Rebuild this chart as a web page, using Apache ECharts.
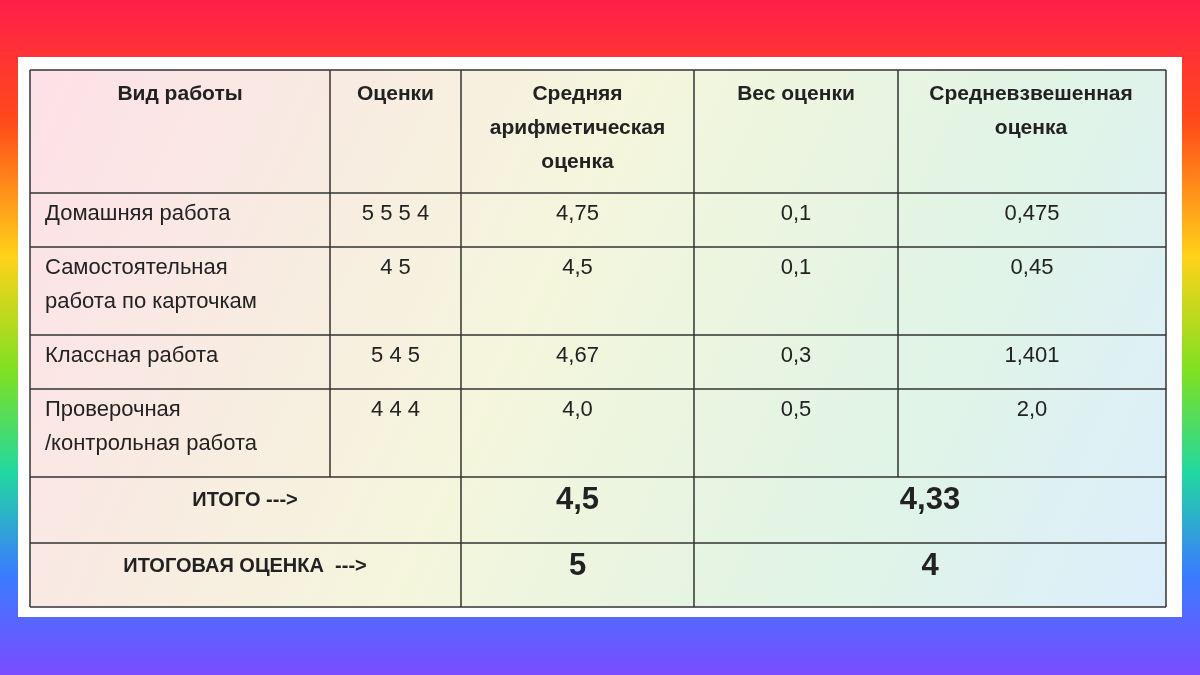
<!DOCTYPE html>
<html><head><meta charset="utf-8">
<script src="https://cdn.jsdelivr.net/npm/echarts@6/dist/echarts.min.js"></script>
<style>html,body{margin:0;padding:0}#c{width:1200px;height:675px}</style>
</head><body><div id="c"></div>
<script>
const headers = ["Вид работы", "Оценки", "Средняя\nарифметическая\nоценка", "Вес оценки", "Средневзвешенная\nоценка"];
const works = ["Домашняя работа", "Самостоятельная\nработа по карточкам", "Классная работа", "Проверочная\n/контрольная работа"];
const marks = ["5 5 5 4", "4 5", "5 4 5", "4 4 4"];
const averages = ["4,75", "4,5", "4,67", "4,0"];
const weights = ["0,1", "0,1", "0,3", "0,5"];
const weighted = ["0,475", "0,45", "1,401", "2,0"];
const totalLabels = ["ИТОГО --->", "ИТОГОВАЯ ОЦЕНКА  --->"];
const totalAvg = ["4,5", "5"];
const totalWeighted = ["4,33", "4"];

const colX = [30, 330, 461, 694, 898, 1166];
const rowY = [70, 193, 247, 335, 389, 477, 543, 607];
const font = "'Liberation Sans','Open Sans',sans-serif";
const els = [];
els.push({type:'rect',shape:{x:0,y:0,width:1200,height:675},style:{fill:new echarts.graphic.LinearGradient(0,0,0,1,[
 {offset:0,color:'#ff1f4a'},{offset:0.18,color:'#ff4a1a'},{offset:0.38,color:'#ffd21a'},{offset:0.55,color:'#7fe022'},
 {offset:0.7,color:'#22d8a0'},{offset:0.85,color:'#3a7cff'},{offset:1,color:'#7a4cff'}])}});
els.push({type:'rect',shape:{x:18,y:57,width:1164,height:560},style:{fill:'#ffffff'}});
els.push({type:'rect',shape:{x:30,y:70,width:1136,height:537},style:{fill:new echarts.graphic.LinearGradient(0,0,1,1,[
 {offset:0,color:'#fde0e8'},{offset:0.45,color:'#f4f6dc'},{offset:0.75,color:'#e0f4e6'},{offset:1,color:'#dceefc'}])}});
const line=(x1,y1,x2,y2)=>els.push({type:'line',shape:{x1,y1,x2,y2},style:{stroke:'#333',lineWidth:1.5}});
rowY.forEach(y=>line(30,y,1166,y));
[30,1166].forEach(x=>line(x,70,x,607));
[330,898].forEach(x=>line(x,70,x,477));
[461,694].forEach(x=>line(x,70,x,607));
const txt=(s,x,y,opt)=>els.push({type:'text',x,y,style:Object.assign({text:s,font:'22px '+font,fill:'#222',align:'center',verticalAlign:'top',lineHeight:34},opt||{})});
const cx=i=>(colX[i]+colX[i+1])/2;
headers.forEach((h,i)=>txt(h, i==0?180:cx(i)+(i==4?-1:0), 77, {font:'bold 21px '+font}));
for(let r=0;r<4;r++){
  const y=rowY[r+1]+4;
  txt(works[r],45,y,{align:'left'});
  txt(marks[r],cx(1),y);
  txt(averages[r],cx(2),y);
  txt(weights[r],cx(3),y);
  txt(weighted[r],cx(4),y);
}
for(let r=0;r<2;r++){
  const y=rowY[r+5];
  txt(totalLabels[r],245,y+6,{font:'bold 20px '+font});
  txt(totalAvg[r],cx(2),y+6,{font:'bold 31px '+font});
  txt(totalWeighted[r],930,y+6,{font:'bold 31px '+font});
}
const chart=echarts.init(document.getElementById('c'));
chart.setOption({animation:false,graphic:{elements:els}});
</script></body></html>
